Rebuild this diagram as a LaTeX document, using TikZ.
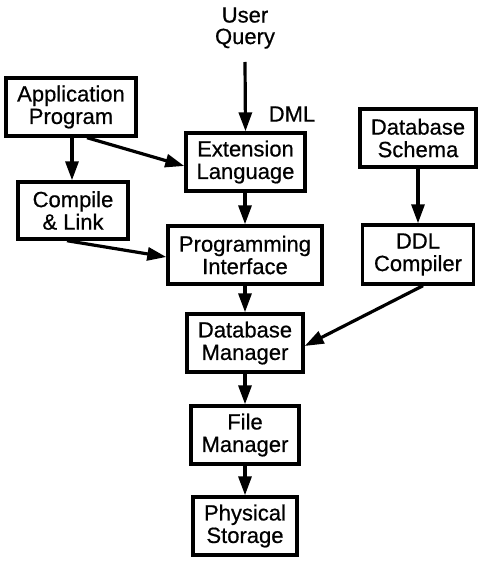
\documentclass[tikz,border=0pt]{standalone}
\usepackage{fontspec}
\setmainfont{Liberation Sans}[FakeBold=0.6]
\usetikzlibrary{arrows.meta}
\begin{document}
\begin{tikzpicture}[x=1pt,y=-1pt,
  box/.style={draw,line width=3.4pt,align=center,inner sep=0pt,
    font=\fontsize{22}{22.5}\selectfont},
  lbl/.style={align=center,inner sep=0pt,font=\fontsize{22}{21.5}\selectfont},
  arr/.style={line width=3.2pt,-{Triangle[length=19pt,width=13pt]}}]
\useasboundingbox (0,0) rectangle (503,564);
\node[box,minimum width=130pt,minimum height=58pt] (AP) at (71,107) {Application\\Program};
\node[box,minimum width=119pt,minimum height=58pt] (EL) at (245.5,162) {Extension\\Language};
\node[box,minimum width=110pt,minimum height=57pt] (CL) at (73,210.5) {Compile\\\& Link};
\node[box,minimum width=154pt,minimum height=58pt] (PI) at (245,255) {Programming\\Interface};
\node[box,minimum width=116pt,minimum height=58pt] (DS) at (418,138) {Database\\Schema};
\node[box,minimum width=111pt,minimum height=59pt] (DDL) at (418,254.5) {DDL\\Compiler};
\node[box,minimum width=116pt,minimum height=58pt] (DM) at (245,343) {Database\\Manager};
\node[box,minimum width=108pt,minimum height=58pt] (FM) at (245,435) {File\\Manager};
\node[box,minimum width=104pt,minimum height=58pt] (PS) at (245,526) {Physical\\Storage};
\node[lbl] (UQ) at (245,28) {User\\Query};
\node[lbl] (DML) at (292,114) {DML};
\coordinate (uq) at (245,62);
\draw[arr] (uq) -- (EL.north);
\draw[arr] (AP.south -| 72,0) -- (CL.north -| 72,0);
\draw[arr] ([xshift=16pt]AP.south) -- ([yshift=-4pt]EL.west);
\draw[arr] ([xshift=-6pt]CL.south) -- ([yshift=-2pt]PI.west);
\draw[arr] (EL.south -| PI.north) -- (PI.north);
\draw[arr] (DS.south) -- (DDL.north);
\draw[arr] (PI.south) -- (DM.north);
\draw[arr] ([xshift=5pt]DDL.south) -- ([yshift=-3pt]DM.east);
\draw[arr] (DM.south) -- (FM.north);
\draw[arr] (FM.south) -- (PS.north);
\end{tikzpicture}
\end{document}
